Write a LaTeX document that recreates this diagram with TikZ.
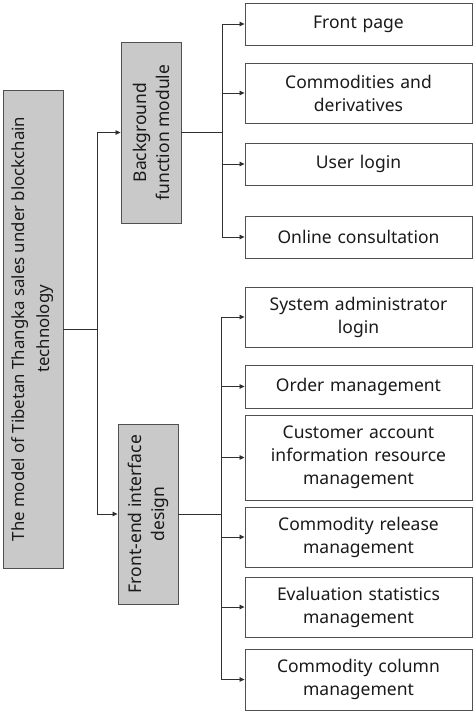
\documentclass[tikz,border=0pt]{standalone}
\usepackage{fontspec}
\setmainfont{Noto Sans}
\usetikzlibrary{arrows.meta,calc}
\definecolor{boxgray}{HTML}{C9C9C9}
\definecolor{edge}{HTML}{505050}
\definecolor{linec}{HTML}{303030}
\definecolor{txt}{HTML}{1A1A1A}
\tikzset{
  x=1pt,y=-1pt,
  every node/.style={font=\fontsize{17.5}{23}\selectfont, text=txt, align=center, inner sep=2pt},
  graybox/.style={draw=edge, line width=0.9pt, fill=boxgray, rotate=90, minimum height=60pt},
  whitebox/.style={draw=edge, line width=0.9pt, fill=white, minimum width=227pt, text width=222pt},
  conn/.style={draw=linec, line width=0.8pt},
  arr/.style={conn, -{Triangle[length=5pt,width=4.5pt]}}
}
\begin{document}
\begin{tikzpicture}
\useasboundingbox (0,0) rectangle (474,711);
% root
\node[graybox, minimum width=478pt, font=\fontsize{16.8}{25}\selectfont] (root) at (33,329) {The model of Tibetan Thangka sales under blockchain\\technology};
\node[graybox, minimum width=181pt] (bg) at (151,132.5) {Background\\function module};
\node[graybox, minimum width=180pt] (fe) at (148,514) {Front-end interface\\design};
% right boxes
\node[whitebox, minimum height=42pt] (b1) at (358.5,24) {Front page};
\node[whitebox, minimum height=60pt] (b2) at (358.5,93) {Commodities and\\derivatives};
\node[whitebox, minimum height=42pt] (b3) at (358.5,164) {User login};
\node[whitebox, minimum height=42pt] (b4) at (358.5,237) {Online consultation};
\node[whitebox, minimum height=60pt] (f1) at (358.5,317) {System administrator\\login};
\node[whitebox, minimum height=43pt] (f2) at (358.5,386.5) {Order management};
\node[whitebox, minimum height=85pt] (f3) at (358.5,457.5) {Customer account\\information resource\\management};
\node[whitebox, minimum height=60pt] (f4) at (358.5,537) {Commodity release\\management};
\node[whitebox, minimum height=60pt] (f5) at (358.5,607) {Evaluation statistics\\management};
\node[whitebox, minimum height=61pt] (f6) at (358.5,679.5) {Commodity column\\management};
% root connectors
\coordinate (j0) at ($(root.south)+(34,0)$);
\path[conn] (root.south) -- (j0);
\path[conn] (j0 |- bg.north) -- (j0 |- fe.north);
\path[arr] (j0 |- bg.north) -- (bg.north);
\path[arr] (j0 |- fe.north) -- (fe.north);
% background connectors
\coordinate (j1) at (222,132.5);
\path[conn] (bg.south) -- (j1);
\path[conn] (j1 |- b1.west) -- (j1 |- b4.west);
\foreach \n in {b1,b2,b3,b4} \path[arr] (j1 |- \n.west) -- (\n.west);
% front-end connectors
\coordinate (j2) at (221,514);
\path[conn] (fe.south) -- (j2);
\path[conn] (j2 |- f1.west) -- (j2 |- f6.west);
\foreach \n in {f1,f2,f3,f4,f5,f6} \path[arr] (j2 |- \n.west) -- (\n.west);
\end{tikzpicture}
\end{document}
